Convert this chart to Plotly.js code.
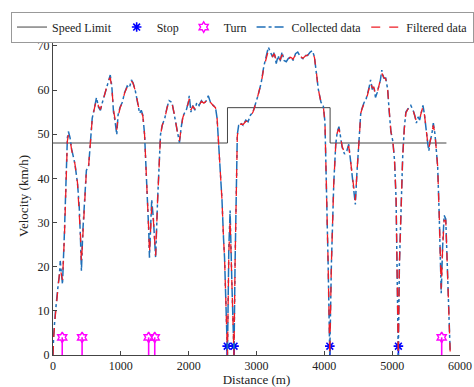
<!DOCTYPE html>
<html>
<head>
<meta charset="utf-8">
<script src="https://cdn.plot.ly/plotly-3.0.1.min.js"></script>
<style>html,body{margin:0;padding:0;background:#fff;}#chart{width:474px;height:387px;}</style>
</head>
<body>
<div id="chart"></div>
<script>
// Speed limit
const limitX = [0, 2572, 2572, 4085, 4085, 5800];
const limitV = [48, 48, 56, 56, 48, 48];

// Stops and turns
const stopX = [2568, 2669, 4081, 5092];
const stopV = [2, 2, 2, 2];
const turnX = [136, 429, 1410, 1500, 5730];
const turnV = [4, 4, 4, 4, 4];

// Distance (m)
const distX = [0,10,35,58,80,92,107,121,140,169,
188,212,227,251,275,323,361,386,405,419,
439,468,492,526,555,578,613,641,671,699,
723,757,795,819,844,867,892,916,940,959,
988,1022,1055,1094,1127,1156,1181,1214,1249,1277,
1301,1325,1350,1373,1397,1412,1422,1441,1455,1480,
1503,1513,1542,1561,1585,1610,1648,1682,1711,1754,
1792,1831,1864,1889,1913,1936,1965,1994,2009,2033,
2062,2091,2120,2153,2188,2225,2260,2289,2322,2361,
2395,2419,2442,2467,2491,2514,2529,2553,2572,2592,
2611,2636,2659,2668,2684,2698,2717,2737,2766,2803,
2842,2876,2910,2948,2987,3021,3069,3107,3141,3175,
3204,3237,3262,3291,3319,3348,3377,3406,3439,3468,
3503,3540,3575,3608,3647,3685,3720,3753,3792,3825,
3854,3879,3912,3951,3984,4009,4032,4056,4080,4104,
4139,4168,4191,4215,4234,4263,4298,4331,4360,4379,
4403,4418,4436,4457,4480,4504,4538,4562,4587,4610,
4635,4659,4682,4707,4731,4754,4779,4803,4827,4847,
4876,4905,4934,4957,4981,5010,5035,5058,5072,5090,
5107,5130,5155,5179,5202,5237,5275,5309,5332,5357,
5382,5405,5429,5454,5477,5501,5526,5541,5559,5584,
5607,5632,5646,5671,5694,5714,5723,5743,5766,5790,
5815,5838,5855];

// Collected velocity (km/h)
const collectedV = [0,4.5,9.6,14,16.5,17.6,21.3,19,16,28,
39,49.2,50.6,49.2,46.6,43.3,38.9,33.8,26.4,19.1,
27.9,36.7,41.8,42.9,48.4,53.6,56.1,58.3,56.1,55.4,
56.9,58.7,60.9,62.3,63.4,60.9,55,52.8,49.9,54.3,
56.1,57.2,59.4,60.9,60.5,62.3,61.6,59.8,57.2,54.7,
55.4,54.3,49.9,42.6,33,27.9,22,30.8,35.2,30.8,
24.2,22,35.2,42.6,49.9,52,53.6,56.1,57.6,57.2,
54.3,50.6,48.1,51.4,53.9,54.7,55.4,57.2,58.7,55,
56.5,55.4,57.2,56.5,57.6,56.9,57.6,58.7,57.2,56.5,
56.1,53.6,48.4,42.6,35.2,26.4,22,9.6,0,24.2,
32.7,16.9,2.3,0,20.6,38.9,49.9,52,52.5,52,
53.2,52.8,54.3,55,56.9,58.7,61.6,65.3,67.5,69.7,
68.6,67.5,68.6,66,67.8,66.4,68.6,66.7,66.4,67.1,
67.5,66.7,68.2,68.6,67.5,67.1,67.8,67.8,68.6,68.9,
67.5,64.5,60.1,57.2,56.5,52.8,38.9,20.6,0,20.6,
38.9,47.7,50.6,51.7,49.9,47,45.5,46.2,47.7,44.8,
42.6,39.6,37.4,34.1,41.1,47.7,55,56.1,57.2,57.6,
59,60.5,62.3,60.1,60.9,58.3,59.4,60.9,62.3,64.5,
62.7,62.7,60.1,55,50.6,48.4,44,35.2,20.6,0,
20.6,35.2,44.8,51.4,55,55.8,56.5,55.4,54.3,52.5,
53.9,53.2,55,56.5,54.3,50.6,47.7,46.2,48.4,49.9,
52.5,49.9,47,42.6,31.6,20.6,14,24.2,31.6,30.8,
20.6,9.6,0.8];

// Filtered velocity (km/h)
const filteredV = [0,4,9,13.5,16.5,18,19.5,18.5,17,27,
39,48.5,49.8,48.8,46.4,43.3,39,33.5,27,21,
27.5,36.5,41.5,43,48.4,53.4,56,57.8,56.3,55.6,
56.8,58.6,60.8,62.2,62.8,60.5,55.5,53,51,53.8,
55.9,57.1,59.3,60.7,60.7,62,61.5,59.8,57.2,55,
55.2,54,49.9,42.6,33,28,23,30,33.5,30.5,
24.5,22.5,35,42.6,49.8,52,53.6,56,57.3,57,
54.3,50.7,48.5,51.2,53.7,54.8,55.6,57,58,55.5,
56.3,55.7,56.9,56.6,57.4,57,57.5,58.3,57.2,56.5,
56,53.6,48.4,42.6,35.2,26.4,22,9.6,0,23,
30.5,16.9,2.3,0,20.6,38.9,49.5,51.8,52.3,52.2,
52.9,53,54.1,55,56.8,58.6,61.5,65,67.3,69,
68.4,67.6,68.2,66.6,67.5,66.8,68,67,66.7,67.1,
67.4,67,68,68.4,67.6,67.2,67.7,67.9,68.4,68.6,
67.4,64.5,60.1,57.2,56.4,52.8,38.9,20.6,0,20.6,
38.9,47.5,50.4,51.2,50,47.2,45.8,46.2,47.3,45,
42.6,39.8,37.6,35,41,47.6,54.8,56,57,57.8,
58.8,60.3,61.8,60.5,60.6,58.8,59.4,60.8,62.2,63.8,
62.8,62.5,60,55,50.6,48.4,44,35.2,20.6,0,
20.6,35.2,44.8,51.2,54.8,55.8,56.3,55.4,54.3,52.9,
53.6,53.4,54.9,56.2,54.3,50.6,47.8,46.8,48.3,49.9,
52,50,47,42.6,31.6,20.6,15,23.8,30.5,30.5,
20.6,9.6,0.8];

const xTicks = [0, 1000, 2000, 3000, 4000, 5000, 6000];
const yTicks = [0, 10, 20, 30, 40, 50, 60, 70];

const serif = "Times New Roman, Liberation Serif, DejaVu Serif, serif";

const traces = [
  {x: limitX, y: limitV, name: 'Speed Limit', mode: 'lines',
   line: {color: '#444444', width: 1}},
  {x: stopX, y: stopV, name: 'Stop', mode: 'markers',
   marker: {symbol: 'asterisk-open', size: 8, color: '#0000ff', line: {width: 1.6, color: '#0000ff'}},
   error_y: {type: 'data', symmetric: false, array: stopV.map(() => 0), arrayminus: stopV,
             width: 0, thickness: 1.6, color: '#0000ff'}},
  {x: turnX, y: turnV, name: 'Turn', mode: 'markers',
   marker: {symbol: 'hexagram-open', size: 8, color: '#ff00ff', line: {width: 1.4, color: '#ff00ff'}},
   error_y: {type: 'data', symmetric: false, array: turnV.map(() => 0), arrayminus: turnV,
             width: 0, thickness: 1.6, color: '#ff00ff'}},
  {x: distX, y: collectedV, name: 'Collected data', mode: 'lines',
   line: {color: '#1f6fb8', width: 1.5, dash: 'dashdot'}},
  {x: distX, y: filteredV, name: 'Filtered data', mode: 'lines',
   line: {color: '#ee1c25', width: 1.3, dash: 'dash'}}
];

const layout = {
  width: 474, height: 387,
  margin: {l: 44, r: 14, t: 27, b: 32},
  paper_bgcolor: '#ffffff', plot_bgcolor: '#ffffff',
  font: {family: serif, size: 12, color: '#222'},
  showlegend: true,
  legend: {orientation: 'h', x: -0.1, xanchor: 'left', y: 1.08, yanchor: 'top',
           bordercolor: '#999', borderwidth: 1, bgcolor: '#fff',
           font: {family: serif, size: 12, color: '#222'}, itemwidth: 30, tracegroupgap: 0},
  xaxis: {range: [0, 6000], tickvals: xTicks, ticktext: xTicks.map(String),
          ticks: 'inside', ticklen: 4, tickcolor: '#444', showline: true, linecolor: '#444', linewidth: 1,
          showgrid: false, zeroline: false, mirror: false,
          tickfont: {family: serif, size: 12, color: '#222'},
          title: {text: 'Distance (m)', font: {family: serif, size: 13, color: '#222'}, standoff: 3},
          automargin: false},
  yaxis: {range: [0, 72], tickvals: yTicks, ticktext: yTicks.map(String),
          ticks: 'inside', ticklen: 4, tickcolor: '#444', showline: true, linecolor: '#444', linewidth: 1,
          showgrid: false, zeroline: false, mirror: false,
          tickfont: {family: serif, size: 12, color: '#222'},
          title: {text: 'Velocity (km/h)', font: {family: serif, size: 13, color: '#222'}, standoff: 6},
          automargin: false}
};

Plotly.newPlot('chart', traces, layout, {displayModeBar: false, staticPlot: true});
</script>
</body>
</html>
